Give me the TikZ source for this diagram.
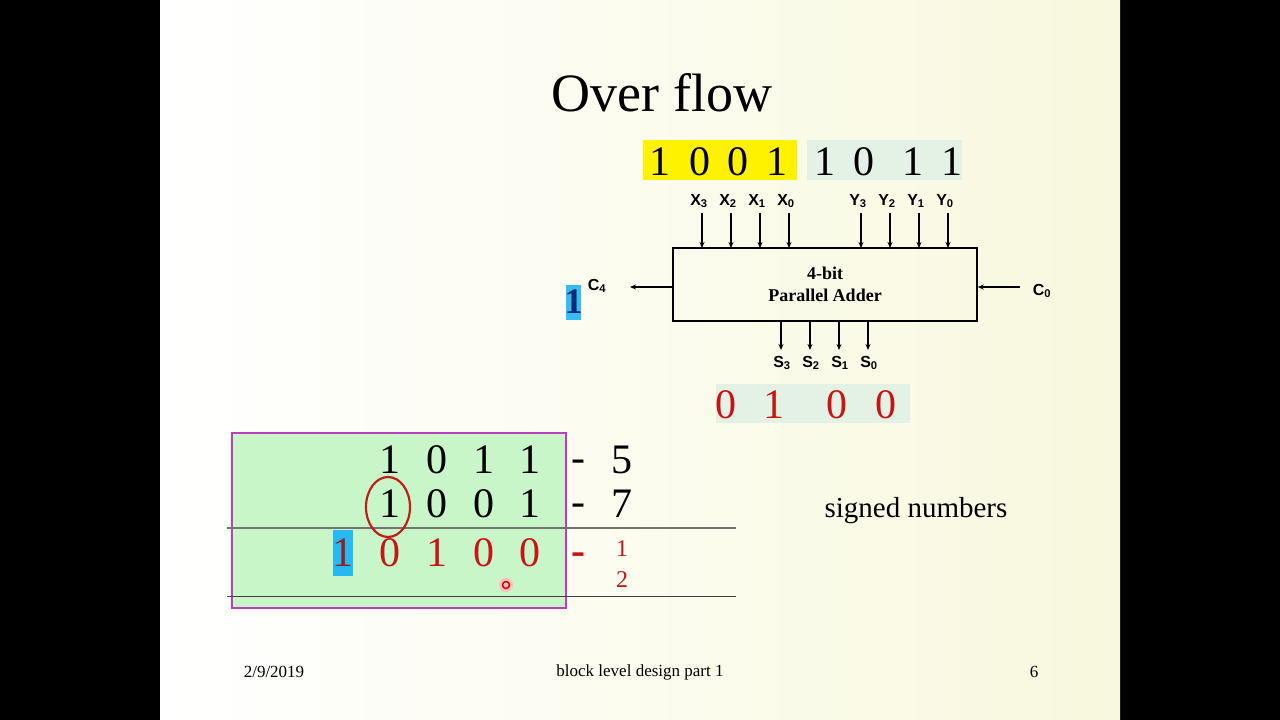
\documentclass[tikz,border=0pt]{standalone}
\usepackage{fontspec}
\usetikzlibrary{arrows.meta}
\setmainfont{Liberation Serif}
\newfontfamily\lsans{Liberation Sans}
\definecolor{bgend}{RGB}{248,248,222}
\definecolor{palegr}{RGB}{228,242,230}
\definecolor{dred}{RGB}{200,20,20}
\definecolor{ered}{RGB}{190,30,20}
\definecolor{onecol}{RGB}{150,30,30}
\definecolor{c4col}{RGB}{20,40,120}
\definecolor{mag}{RGB}{190,60,190}
\definecolor{boxgr}{RGB}{200,246,200}
\begin{document}
\begin{tikzpicture}[x=1pt,y=-1pt,
 dig/.style={font=\fontsize{42}{44}\selectfont,inner sep=0},
 lab/.style={font=\lsans\bfseries\fontsize{16}{18}\selectfont,inner sep=0},
 arr/.style={-{Stealth[length=6pt,width=5pt]},line width=1.2pt}]
\useasboundingbox (0,0) rectangle (1280,720);
\fill[black] (0,0) rectangle (1280,720);
\shade[left color=white,right color=bgend] (160,0) rectangle (1120,720);
\node[font=\fontsize{54}{60}\selectfont] (title) at (662,93) {Over flow};
% top inputs
\fill[yellow] (643,140) rectangle (797,180);
\fill[palegr] (807,140) rectangle (962,180);
\foreach \x/\d [count=\i] in {660/1,700/0,738/0,777/1} \node[dig] (xa\i) at (\x,162) {\d};
\foreach \x/\d [count=\i] in {825/1,864/0,913/1,952/1} \node[dig] (ya\i) at (\x,162) {\d};
% adder
\node[draw,line width=1.5pt,minimum width=304pt,minimum height=73pt,inner sep=0,align=center,
 font=\bfseries\fontsize{18}{22}\selectfont] (add) at (825,284.5) {4-bit\\Parallel Adder};
\foreach \x/\n in {702/3,731/2,760/1,789/0}{
 \node[lab] (X\n) at (\x-3,201) {X\textsubscript{\n}};
 \coordinate (xs\n) at (\x,213); \coordinate (xe\n) at (\x,248);
 \draw[arr] (xs\n) -- (xe\n);}
\foreach \x/\n in {861/3,890/2,919/1,948/0}{
 \node[lab] (Y\n) at (\x-3,201) {Y\textsubscript{\n}};
 \coordinate (ys\n) at (\x,213); \coordinate (ye\n) at (\x,248);
 \draw[arr] (ys\n) -- (ye\n);}
\foreach \x/\n in {781/3,810/2,839/1,868/0}{
 \node[lab] (S\n) at (\x+1,363) {S\textsubscript{\n}};
 \coordinate (ss\n) at (\x,321); \coordinate (se\n) at (\x,350);
 \draw[arr] (ss\n) -- (se\n);}
\coordinate (c4e) at (630,287);
\draw[arr] (add.west |- c4e) -- (c4e);
\node[lab] (C4) at (597,286) {C\textsubscript{4}};
\fill[cyan!80] (566,285) rectangle (581,320);
\node[font=\bfseries\fontsize{36}{38}\selectfont,text=c4col,inner sep=0] (c4v) at (573.5,302) {1};
\coordinate (c0s) at (1020,287);
\draw[arr] (c0s) -- (add.east |- c0s);
\node[lab] (C0) at (1042,291) {C\textsubscript{0}};
% output
\fill[palegr] (716,384) rectangle (910,423);
\foreach \x/\d [count=\i] in {726/0,774/1,837/0,886/0} \node[dig,text=dred] (o\i) at (\x,405) {\d};
% calculation
\draw[mag,line width=1.5pt,fill=boxgr] (232,433) rectangle (566,608);
\draw[gray!90!black,line width=1.4pt] (227,528) -- (736,528);
\draw[black!75,line width=1pt] (227,596) -- (736,596);
\foreach \x/\d [count=\i] in {390/1,437/0,484/1,530/1} \node[dig] (r1\i) at (\x,460) {\d};
\foreach \x/\d [count=\i] in {390/1,437/0,484/0,530/1} \node[dig] (r2\i) at (\x,504) {\d};
\node[dig] (m1) at (578,466) {-};
\node[dig] (v1) at (622,460) {5};
\node[dig] (m2) at (578,510) {-};
\node[dig] (v2) at (622,504) {7};
\draw[ered,line width=2.2pt] (388,507) ellipse (22 and 30);
\fill[cyan!85] (333,530) rectangle (353,576);
\node[dig,text=onecol] (r30) at (343,553) {1};
\foreach \x/\d [count=\i] in {390/0,437/1,484/0,530/0} \node[dig,text=dred] (r3\i) at (\x,553) {\d};
\node[dig,text=dred,font=\bfseries\fontsize{42}{44}\selectfont] (m3) at (578,559) {-};
\node[font=\fontsize{24}{26}\selectfont,text=dred,inner sep=0] (v3a) at (622,549) {1};
\node[font=\fontsize{24}{26}\selectfont,text=dred,inner sep=0] (v3b) at (622,580) {2};
\fill[red!25] (506,585) circle (7);
\draw[red!85!black,line width=1.5pt] (506,585) circle (3.5);
\node[font=\fontsize{29}{32}\selectfont] (sn) at (916,511) {signed numbers};
% footer
\node[font=\fontsize{17}{20}\selectfont] (date) at (274,672) {2/9/2019};
\node[font=\fontsize{17}{20}\selectfont] (foot) at (640,672) {block level design part 1};
\node[font=\fontsize{17}{20}\selectfont] (pg) at (1034,672) {6};
\end{tikzpicture}
\end{document}
